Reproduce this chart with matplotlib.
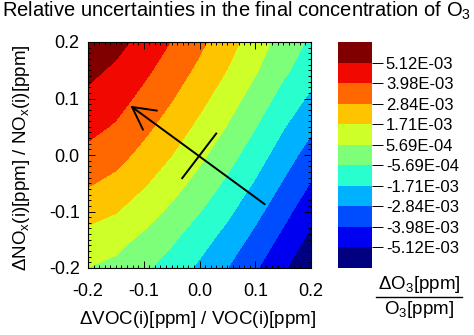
import numpy as np
import matplotlib.pyplot as plt
from matplotlib.lines import Line2D
from matplotlib.patches import FancyArrowPatch
from matplotlib.ticker import MultipleLocator

plt.rcParams['font.family'] = 'Liberation Sans'
plt.rcParams['mathtext.fontset'] = 'custom'
plt.rcParams['mathtext.rm'] = 'Liberation Sans'
plt.rcParams['mathtext.it'] = 'Liberation Sans:italic'
plt.rcParams['axes.unicode_minus'] = False

# relative perturbations of VOC (x) and NOx (y)
d_voc = [-0.2, -0.15, -0.1, -0.05, 0.0, 0.05, 0.1, 0.15, 0.2]
d_nox = [-0.2, -0.15, -0.1, -0.05, 0.0, 0.05, 0.1, 0.15, 0.2]

# relative change of O3 (x 1e-3), one row per NOx value, columns along VOC
rel_o3 = [
    [0.55, 0.26, -0.37, -1.08, -1.92, -2.83, -3.85, -4.95, -6.15],
    [1.27, 0.95, 0.31, -0.41, -1.26, -2.16, -3.18, -4.28, -5.43],
    [2.14, 1.76, 1.09, 0.33, -0.53, -1.47, -2.50, -3.61, -4.73],
    [2.94, 2.53, 1.83, 1.05, 0.17, -0.78, -1.82, -2.93, -4.03],
    [3.67, 3.23, 2.51, 1.72, 0.83, -0.12, -1.16, -2.28, -3.33],
    [4.32, 3.86, 3.12, 2.33, 1.45, 0.51, -0.53, -1.63, -2.62],
    [4.88, 4.41, 3.68, 2.90, 2.04, 1.10, 0.09, -0.97, -1.92],
    [5.40, 4.92, 4.22, 3.44, 2.59, 1.68, 0.69, -0.35, -1.22],
    [6.00, 5.48, 4.74, 3.94, 3.08, 2.15, 1.15, 0.10, -0.75],
]

cbar_levels = [-5.12e-3, -3.98e-3, -2.84e-3, -1.71e-3, -5.69e-4,
               5.69e-4, 1.71e-3, 2.84e-3, 3.98e-3, 5.12e-3]
cbar_labels = ['-5.12E-03', '-3.98E-03', '-2.84E-03', '-1.71E-03', '-5.69E-04',
               '5.69E-04', '1.71E-03', '2.84E-03', '3.98E-03', '5.12E-03']

axis_ticks = [-0.2, -0.1, 0.0, 0.1, 0.2]
axis_ticklabels = ['-0.2', '-0.1', '0.0', '0.1', '0.2']

# direction arrow and the bar across it
arrow_tail = (0.121, -0.090)
arrow_tip = (-0.128, 0.090)
bar_start = (-0.031, -0.041)
bar_end = (0.030, 0.038)

X, Y = np.meshgrid(d_voc, d_nox)
Z = np.array(rel_o3) * 1e-3

W, H = 474, 335
fig = plt.figure(figsize=(W / 100, H / 100), dpi=100)
ax = fig.add_axes([88 / W, 1 - 268 / H, 223 / W, 226 / H])
cax = fig.add_axes([338 / W, 1 - 268 / H, 34 / W, 226 / H])

levels = [-1.0] + cbar_levels + [1.0]
colors = plt.cm.jet(np.linspace(0, 1, 11))
cs = ax.contourf(X, Y, Z, levels=levels, colors=colors)

ax.set_xlim(-0.2, 0.2)
ax.set_ylim(-0.2, 0.2)
ax.set_xticks(axis_ticks)
ax.set_xticklabels(axis_ticklabels)
ax.set_yticks(axis_ticks)
ax.set_yticklabels(axis_ticklabels)
ax.xaxis.set_minor_locator(MultipleLocator(0.01))
ax.yaxis.set_minor_locator(MultipleLocator(0.01))
ax.tick_params(which='both', direction='in', top=True, right=True, width=0.7)
ax.tick_params(which='major', length=5, labelsize=13)
ax.tick_params(which='minor', length=2.5)
ax.tick_params(axis='x', pad=11)
ax.tick_params(axis='y', pad=6)
for sp in ax.spines.values():
    sp.set_linewidth(0.8)

arrow = FancyArrowPatch(arrow_tail, arrow_tip,
                        arrowstyle='->,head_length=1.6,head_width=0.85',
                        mutation_scale=10, lw=1.4, color='black')
ax.add_patch(arrow)
ax.plot([bar_start[0], bar_end[0]], [bar_start[1], bar_end[1]],
        color='black', lw=1.4)

cb = fig.colorbar(cs, cax=cax, ticks=cbar_levels)
cb.ax.set_yticklabels(cbar_labels)
cb.ax.tick_params(direction='out', length=8, width=0.7, labelsize=12, pad=2)
cb.outline.set_linewidth(0)

fig.text(0.004, 1 - 11 / H,
         'Relative uncertainties in the final concentration of O$_3$',
         fontsize=14.5, ha='left', va='center')
fig.text(198 / W, 1 - 319 / H, r'$\Delta$VOC(i)[ppm] / VOC(i)[ppm]',
         fontsize=13.5, ha='center', va='center')
fig.text(22 / W, 1 - 158 / H,
         r'$\Delta$NO$_\mathrm{x}$(i)[ppm] / NO$_\mathrm{x}$(i)[ppm]',
         fontsize=13.5, ha='center', va='center', rotation=90)

# colorbar unit written as a fraction
fig.text(419 / W, 1 - 295 / H, r'$\Delta$O$_3$[ppm]',
         fontsize=13.5, ha='center', va='bottom')
fig.text(419 / W, 1 - 299 / H, r'O$_3$[ppm]',
         fontsize=13.5, ha='center', va='top')
fig.add_artist(Line2D([376 / W, 462 / W], [1 - 297 / H, 1 - 297 / H],
                      transform=fig.transFigure, color='black', lw=1.0))

fig.savefig('out.png', dpi=100)
